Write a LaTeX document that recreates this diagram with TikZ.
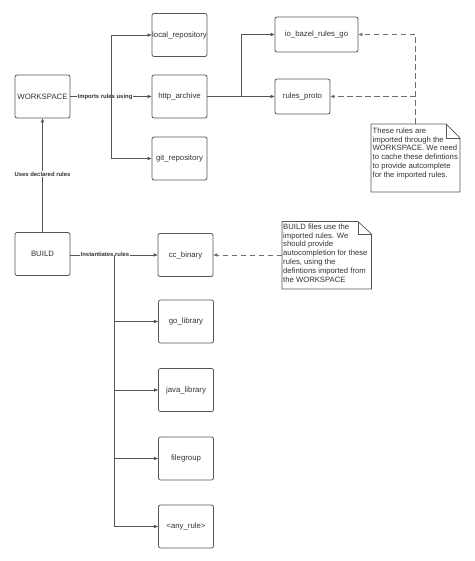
\documentclass[tikz,border=0pt]{standalone}
\usepackage{fontspec}
\setmainfont{Liberation Sans}
\usetikzlibrary{arrows.meta}
\definecolor{edge}{HTML}{555555}
\definecolor{txt}{HTML}{333333}
\tikzset{
  box/.style={draw=edge, line width=0.8pt, rounded corners=2pt, minimum width=55pt, minimum height=43pt, inner sep=0pt, text=txt, font=\fontsize{7.8}{9}\selectfont},
  conn/.style={draw=edge, line width=0.7pt, -{Triangle[length=4pt,width=3.2pt]}},
  plain/.style={draw=edge, line width=0.7pt},
  dconn/.style={draw=edge!85, line width=0.7pt, dash pattern=on 5.5pt off 3.5pt, -{Triangle[length=4pt,width=3.2pt]}},
  lbl/.style={fill=white, inner sep=0.5pt, text=txt, font=\bfseries\fontsize{5.9}{6.5}\selectfont},
  notetext/.style={align=left, anchor=north west, inner sep=0pt, text=txt, font=\fontsize{7.7}{8.8}\selectfont},
  notebox/.style={draw=edge, line width=0.7pt, fill=white},
}
\begin{document}
\begin{tikzpicture}[x=1pt,y=-1pt]
\useasboundingbox (0,0) rectangle (474,561);
% top group
\node[box] (ws) at (42.5,96.5) {WORKSPACE};
\node[box] (local) at (179.5,35) {local\_repository};
\node[box] (http) at (179.5,96.5) {http\_archive};
\node[box] (git) at (179.5,158.5) {git\_repository};
\node[box, minimum width=83pt, minimum height=35pt] (iob) at (316.5,34.5) {io\_bazel\_rules\_go};
\node[box, minimum width=55pt, minimum height=35pt] (proto) at (302.5,96.5) {rules\_proto};
% bottom group
\node[box] (build) at (42.5,254) {BUILD};
\node[box] (cc) at (185.5,255) {cc\_binary};
\node[box] (go) at (186,321.5) {go\_library};
\node[box] (java) at (186,390) {java\_library};
\node[box] (fg) at (186,458.5) {filegroup};
\node[box] (any) at (186,526.5) {<any\_rule>};
% branch coordinates
\coordinate (wsb) at (111,96.5);
\coordinate (hb) at (241.5,96.5);
\coordinate (bb) at (114.5,255);
% WORKSPACE arrows
\draw[conn] (ws.east) -- (http.west);
\node[lbl] at (105,96.5) {Imports rules using};
\draw[conn] (wsb) |- (local.west);
\draw[conn] (wsb) |- (git.west);
% http_archive arrows
\draw[conn] (http.east) -- (proto.west);
\draw[conn] (hb) |- (iob.west);
% BUILD -> WORKSPACE
\draw[conn] (build.north) -- (ws.south);
\node[lbl] at (42.5,174) {Uses declared rules};
% BUILD arrows
\draw[conn] (build.east |- cc.west) -- (cc.west);
\node[lbl] at (105,254.5) {Instantiates rules};
\draw[conn] (bb) |- (go.west);
\draw[conn] (bb) |- (java.west);
\draw[conn] (bb) |- (fg.west);
\draw[conn] (bb) |- (any.west);
% note 1
\draw[notebox] (371,124) -- (446,124) -- (460,138) -- (460,192) -- (371,192) -- cycle;
\draw[plain] (446,124) -- (446,138) -- (460,138);
\node[notetext] (n1) at (372.5,127.5) {These rules are\\imported through the\\WORKSPACE. We need\\to cache these defintions\\to provide autcomplete\\for the imported rules.};
\coordinate (n1top) at (415.7,124);
\draw[dconn] (n1top) |- (iob.east);
\draw[dconn] (415.7,96.5) -- (proto.east);
% note 2
\draw[notebox] (282,221.5) -- (358,221.5) -- (371.5,234) -- (371.5,289) -- (282,289) -- cycle;
\draw[plain] (358,221.5) -- (358,234) -- (371.5,234);
\node[notetext] (n2) at (283,223.5) {BUILD files use the\\imported rules. We\\should provide\\autocompletion for these\\rules, using the\\defintions imported from\\the WORKSPACE};
\coordinate (n2w) at (282,255);
\draw[dconn] (n2w) -- (cc.east);
\end{tikzpicture}
\end{document}
